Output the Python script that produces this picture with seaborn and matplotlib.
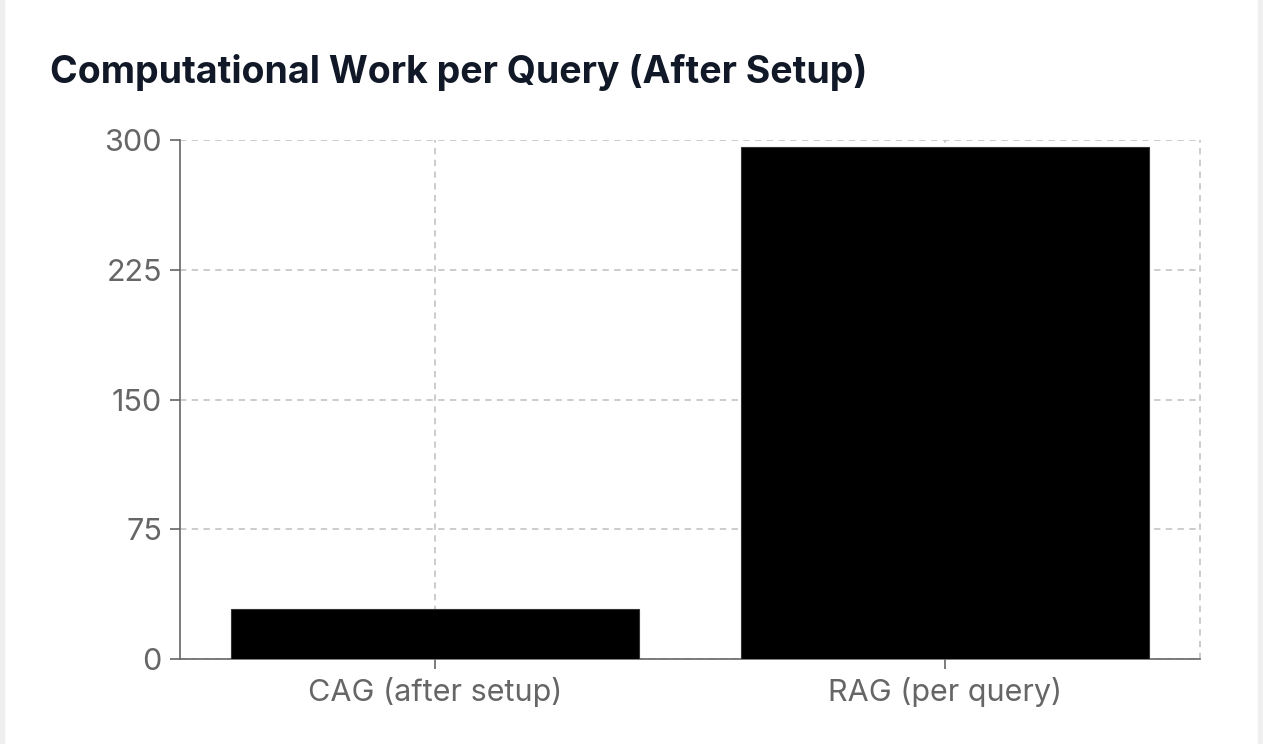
import matplotlib
matplotlib.use("Agg")
import matplotlib.pyplot as plt
import seaborn as sns
import pandas as pd

# Data
categories = ["CAG (after setup)", "RAG (per query)"]
work = [29, 296]
yticks = [0, 75, 150, 225, 300]

df = pd.DataFrame({"method": categories, "work": work})

sns.set_theme(style="white")
plt.rcParams["font.family"] = ["Inter", "DejaVu Sans"]

fig = plt.figure(figsize=(12.63, 7.44), dpi=100)
ax = fig.add_axes([0.1425, 0.1142, 0.8076, 0.6976])

sns.barplot(data=df, x="method", y="work", color="black", saturation=1,
            width=0.8, edgecolor="#333333", linewidth=0.8, ax=ax, zorder=3)

ax.set_xlim(-0.5, 1.5)
ax.set_ylim(0, 300)
ax.set_yticks(yticks)
ax.set_yticklabels([str(t) for t in yticks])
ax.set_xlabel("")
ax.set_ylabel("")

# dashed grid like the original
ax.grid(True, axis="both", linestyle=(0, (3.5, 3)), color="#c8c8c8", linewidth=1.3, zorder=0)
ax.axvline(1.5, linestyle=(0, (3.5, 3)), color="#c8c8c8", linewidth=1.3, zorder=0, clip_on=False)

for s in ["top", "right"]:
    ax.spines[s].set_visible(False)
for s in ["left", "bottom"]:
    ax.spines[s].set_color("#666666")
    ax.spines[s].set_linewidth(1.2)

ax.tick_params(axis="both", colors="#666666", labelsize=22, length=7, width=1.2,
               direction="out", left=True, bottom=True, pad=6)

fig.text(0.0396, 0.888, "Computational Work per Query (After Setup)", fontsize=27,
         fontweight="bold", color="#111827", ha="left", va="baseline")

# light card edges
fig.patches.append(plt.Rectangle((0, 0), 0.003, 1, transform=fig.transFigure,
                                 color="#efefef", zorder=0))
fig.patches.append(plt.Rectangle((0.996, 0), 0.004, 1, transform=fig.transFigure,
                                 color="#efefef", zorder=0))

fig.savefig("out.png", dpi=100)
